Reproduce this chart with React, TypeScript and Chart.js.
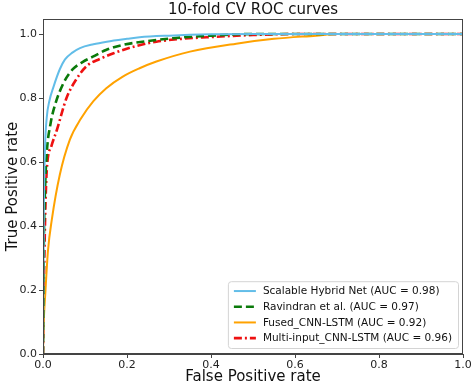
import React, { useEffect, useRef } from "react";
import { Chart, registerables } from "chart.js";

Chart.register(...registerables);

const seriesLabels = [
  "Scalable Hybrid Net (AUC = 0.98)",
  "Ravindran et al. (AUC = 0.97)",
  "Fused_CNN-LSTM (AUC = 0.92)",
  "Multi-input_CNN-LSTM (AUC = 0.96)",
];

const blueX = [0, 0.002, 0.005, 0.009, 0.015, 0.025, 0.04, 0.052, 0.07, 0.088, 0.12, 0.152, 0.2, 0.23, 0.3, 0.4, 0.5, 1.0];
const blueY = [0, 0.45, 0.65, 0.74, 0.79, 0.835, 0.89, 0.92, 0.942, 0.956, 0.968, 0.976, 0.985, 0.99, 0.995, 0.999, 1.0, 1.0];

const greenX = [0, 0.002, 0.005, 0.009, 0.018, 0.029, 0.05, 0.071, 0.095, 0.12, 0.15, 0.19, 0.25, 0.31, 0.4, 0.5, 1.0];
const greenY = [0, 0.35, 0.52, 0.63, 0.72, 0.78, 0.85, 0.89, 0.913, 0.93, 0.95, 0.966, 0.978, 0.987, 0.995, 1.0, 1.0];

const orangeX = [0, 0.001, 0.006, 0.012, 0.021, 0.04, 0.064, 0.09, 0.12, 0.15, 0.19, 0.23, 0.27, 0.35, 0.46, 0.55, 0.65, 0.7, 1.0];
const orangeY = [0, 0.07, 0.2, 0.325, 0.42, 0.56, 0.67, 0.735, 0.79, 0.83, 0.867, 0.893, 0.914, 0.945, 0.97, 0.985, 0.995, 1.0, 1.0];

const redX = [0, 0.002, 0.005, 0.009, 0.02, 0.033, 0.056, 0.08, 0.104, 0.135, 0.168, 0.22, 0.27, 0.33, 0.39, 0.5, 0.6, 1.0];
const redY = [0, 0.2, 0.42, 0.575, 0.65, 0.7, 0.8, 0.86, 0.9, 0.922, 0.94, 0.962, 0.976, 0.985, 0.99, 0.997, 1.0, 1.0];

const tickValues = [0, 0.2, 0.4, 0.6, 0.8, 1.0];

const FONT = "'DejaVu Sans', sans-serif";

const toPoints = (xs: number[], ys: number[]) => xs.map((x, i) => ({ x, y: ys[i] }));

const framePlugin = {
  id: "frame",
  afterDatasetsDraw(chart: any) {
    const { ctx, chartArea } = chart;
    ctx.save();
    ctx.strokeStyle = "#444";
    ctx.lineWidth = 1;
    ctx.strokeRect(chartArea.left + 0.5, chartArea.top + 0.5, chartArea.right - chartArea.left - 1, chartArea.bottom - chartArea.top - 1);
    ctx.restore();
  },
};

const legendPlugin = {
  id: "boxLegend",
  afterDraw(chart: any) {
    const { ctx, chartArea } = chart;
    const rowH = 15.7;
    const fontSize = 10.5;
    ctx.save();
    ctx.font = `${fontSize}px ${FONT}`;
    const datasets = chart.data.datasets;
    let maxW = 0;
    datasets.forEach((d: any) => (maxW = Math.max(maxW, ctx.measureText(d.label).width)));
    const w = maxW + 35 + 6;
    const h = rowH * datasets.length + 4;
    const x0 = chartArea.right - 5 - w;
    const y0 = chartArea.bottom - 6 - h;
    ctx.fillStyle = "rgba(255,255,255,0.85)";
    ctx.strokeStyle = "#d4d4d4";
    ctx.lineWidth = 1;
    ctx.beginPath();
    ctx.roundRect(x0 + 0.5, y0 + 0.5, w, h, 3);
    ctx.fill();
    ctx.stroke();
    datasets.forEach((d: any, i: number) => {
      const cy = y0 + 2 + rowH * (i + 0.5);
      ctx.strokeStyle = d.borderColor;
      ctx.lineWidth = d.borderWidth;
      ctx.setLineDash(d.borderDash || []);
      ctx.beginPath();
      ctx.moveTo(x0 + 6, cy);
      ctx.lineTo(x0 + 28, cy);
      ctx.stroke();
      ctx.setLineDash([]);
      ctx.fillStyle = "#111";
      ctx.textBaseline = "middle";
      ctx.textAlign = "left";
      ctx.fillText(d.label, x0 + 35, cy + 0.5);
    });
    ctx.restore();
  },
};

export default function App() {
  const ref = useRef<HTMLCanvasElement | null>(null);

  useEffect(() => {
    document.body.style.margin = "0";
    const canvas = ref.current!;
    const chart = new Chart(canvas, {
      type: "line",
      data: {
        datasets: [
          {
            label: seriesLabels[0],
            data: toPoints(blueX, blueY),
            borderColor: "#62bde8",
            borderWidth: 2,
          },
          {
            label: seriesLabels[1],
            data: toPoints(greenX, greenY),
            borderColor: "#0a7a0a",
            borderWidth: 2.6,
            borderDash: [8, 4],
          },
          {
            label: seriesLabels[2],
            data: toPoints(orangeX, orangeY),
            borderColor: "#ffa200",
            borderWidth: 2,
          },
          {
            label: seriesLabels[3],
            data: toPoints(redX, redY),
            borderColor: "#ee1111",
            borderWidth: 2.6,
            borderDash: [8, 3, 2, 3],
          },
        ] as any,
      },
      options: {
        animation: false,
        responsive: false,
        devicePixelRatio: 1,
        layout: { padding: { left: 0, right: 11, top: 0, bottom: 0 } },
        elements: {
          point: { radius: 0, hoverRadius: 0 },
          line: { cubicInterpolationMode: "monotone", fill: false },
        },
        plugins: {
          legend: { display: false },
          tooltip: { enabled: false },
          title: {
            display: true,
            fullSize: false,
            text: "10-fold CV ROC curves",
            color: "#111",
            font: { family: FONT, size: 15, weight: "normal", lineHeight: 1.0 },
            padding: { top: 3, bottom: 1 },
          },
        },
        scales: {
          x: {
            type: "linear",
            min: 0,
            max: 1,
            afterFit: (s: any) => {
              s.height = 33;
            },
            afterBuildTicks: (s: any) => {
              s.ticks = tickValues.map((v) => ({ value: v }));
            },
            ticks: {
              color: "#222",
              font: { family: FONT, size: 11 },
              padding: 1,
              maxRotation: 0,
              callback: (v: any) => Number(v).toFixed(1),
            },
            grid: { drawOnChartArea: false, drawTicks: true, tickLength: 4, color: "#444" },
            border: { display: true, color: "#444" },
            title: {
              display: true,
              text: "False Positive rate",
              color: "#111",
              font: { family: FONT, size: 15 },
              padding: { top: 0, bottom: 1 },
            },
          },
          y: {
            type: "linear",
            min: 0,
            max: 1.047,
            afterFit: (s: any) => {
              s.width = 43;
            },
            afterBuildTicks: (s: any) => {
              s.ticks = tickValues.map((v) => ({ value: v }));
            },
            ticks: {
              color: "#222",
              font: { family: FONT, size: 11 },
              padding: 2,
              callback: (v: any) => Number(v).toFixed(1),
            },
            grid: { drawOnChartArea: false, drawTicks: true, tickLength: 4, color: "#444" },
            border: { display: true, color: "#444" },
            title: {
              display: true,
              text: "True Positive rate",
              color: "#111",
              font: { family: FONT, size: 15 },
              padding: { top: 4, bottom: 0 },
            },
          },
        },
      } as any,
      plugins: [framePlugin, legendPlugin],
    });
    return () => chart.destroy();
  }, []);

  return (
    <div style={{ width: 474, height: 387 }}>
      <canvas ref={ref} width={474} height={387} style={{ display: "block" }} />
    </div>
  );
}
